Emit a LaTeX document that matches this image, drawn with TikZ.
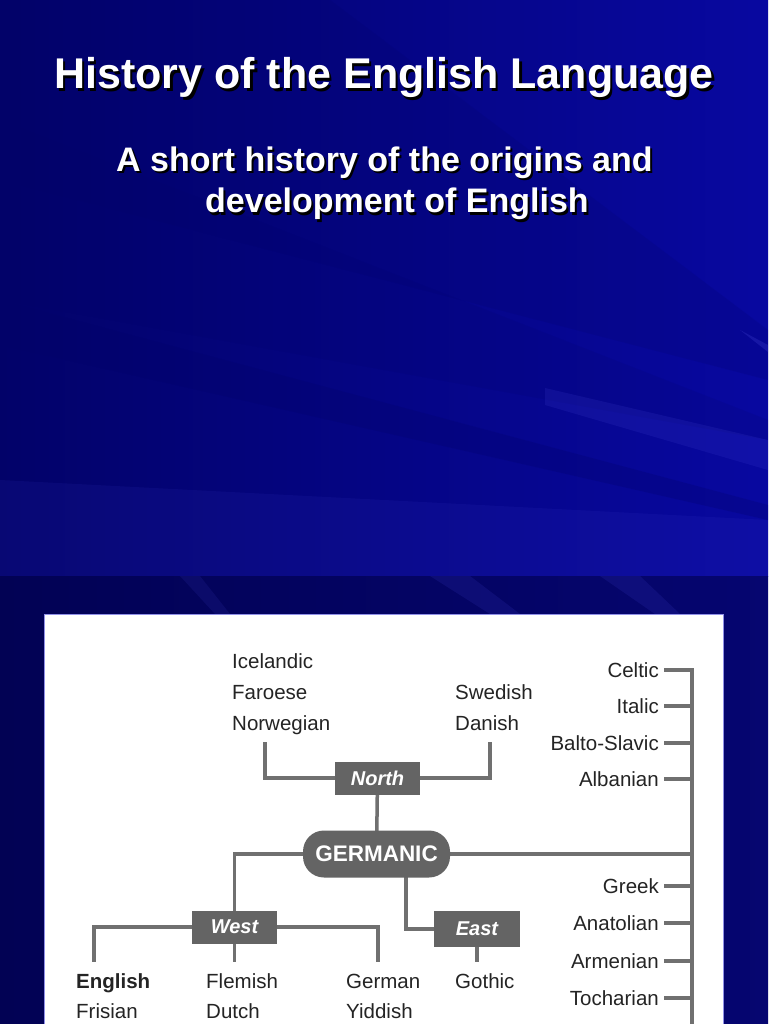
\documentclass[tikz,border=0pt]{standalone}
\usepackage{fontspec}
\setmainfont{Liberation Sans}
\usetikzlibrary{positioning}
\definecolor{slideblue}{RGB}{8,8,160}
\definecolor{slidedark}{RGB}{2,2,105}
\definecolor{raylight}{RGB}{70,70,215}
\definecolor{boxgrey}{RGB}{100,100,100}
\definecolor{linegrey}{RGB}{112,112,112}
\definecolor{inkgrey}{RGB}{36,36,36}

\begin{document}
\begin{tikzpicture}[x=1pt, y=-1pt,
    heading/.style={text=white, inner sep=0pt},
    lang/.style={font=\fontsize{20.5}{24}\selectfont, text=inkgrey, inner sep=0pt, text height=15pt, text depth=1pt},
    branch/.style={fill=boxgrey, text=white, font=\fontsize{20}{24}\selectfont\bfseries\itshape, minimum width=85pt, minimum height=33pt, inner sep=0pt},
    link/.style={draw=linegrey, line width=3.5pt},
    tick/.style={draw=linegrey, line width=4.5pt}]
        \useasboundingbox (0,0) rectangle (768,1024);
        \clip (0,0) rectangle (768,1024);

        % slide backgrounds
        \shade[left color=slidedark, right color=slideblue] (0,0) rectangle (768,576);
        \fill[slidedark, opacity=0.18] (0,0) -- (330,0) -- (768,330) -- (768,380) -- (0,180) -- cycle;
        \fill[slidedark, opacity=0.15] (0,120) -- (768,420) -- (768,440) -- (0,300) -- cycle;
        \fill[raylight, opacity=0.16] (545,388) -- (768,440) -- (768,470) -- (545,405) -- cycle;
        \fill[slidedark, opacity=0.25] (0,300) -- (768,505) -- (768,520) -- (0,345) -- cycle;
        \fill[raylight, opacity=0.10] (0,480) -- (768,520) -- (768,576) -- (0,576) -- cycle;
        \fill[raylight, opacity=0.25] (740,330) -- (768,345) -- (768,352) -- cycle;
        \shade[left color=slidedark!80!black, right color=slideblue!70!black] (0,576) rectangle (768,1024);
        \fill[raylight, opacity=0.15] (430,576) -- (470,576) -- (520,614) -- (490,614) -- cycle;
        \fill[raylight, opacity=0.15] (600,576) -- (640,576) -- (680,614) -- (655,614) -- cycle;
        \fill[raylight, opacity=0.12] (180,576) -- (200,576) -- (230,614) -- (215,614) -- cycle;
        \filldraw[fill=white, draw=raylight!60!white, line width=0.8] (44,614) rectangle (723,1030);

        % titles
        \node[heading, text=black, anchor=base, font=\fontsize{43}{48}\selectfont\bfseries] (titleshadow) at (386.5,91.5) {History of the English Language};
        \node[heading, anchor=base, font=\fontsize{43}{48}\selectfont\bfseries] (title) at (384,89) {History of the English Language};
        \node[heading, text=black, anchor=base west, font=\fontsize{34}{40}\selectfont\bfseries] (subashadow) at (118,174) {A short history of the origins and};
        \node[heading, anchor=base west, font=\fontsize{34}{40}\selectfont\bfseries] (suba) at (116,172) {A short history of the origins and};
        \node[heading, text=black, anchor=base west, font=\fontsize{34}{40}\selectfont\bfseries] (subbshadow) at (207,215) {development of English};
        \node[heading, anchor=base west, font=\fontsize{34}{40}\selectfont\bfseries] (subb) at (205,213) {development of English};

        % germanic branches
        \node[lang, anchor=base west] (icelandic) at (232,668) {Icelandic};
        \node[lang, anchor=base west] (faroese) at (232,699) {Faroese};
        \node[lang, anchor=base west] (norwegian) at (232,730) {Norwegian};
        \node[lang, anchor=base west] (swedish) at (455,699) {Swedish};
        \node[lang, anchor=base west] (danish) at (455,730) {Danish};
        \node[lang, anchor=base west, font=\fontsize{20.5}{24}\selectfont\bfseries] (english) at (76,988) {English};
        \node[lang, anchor=base west] (frisian) at (76,1018) {Frisian};
        \node[lang, anchor=base west] (flemish) at (206,988) {Flemish};
        \node[lang, anchor=base west] (dutch) at (206,1018) {Dutch};
        \node[lang, anchor=base west] (german) at (346,988) {German};
        \node[lang, anchor=base west] (yiddish) at (346,1018) {Yiddish};
        \node[lang, anchor=base west] (gothic) at (455,988) {Gothic};

        \coordinate (norstub) at (265,742);
        \coordinate (danstub) at (490,742);
        \coordinate (engstub) at (94,962);
        \coordinate (gerstub) at (378,962);
        \coordinate (spinetop) at (692,668);
        \coordinate (spinefoot) at (692,1030);

        \draw[link] (norstub) |- (377.5,778);
        \draw[link] (danstub) |- (377.5,778);
        \draw[link] (234.5,927) -| (engstub);
        \draw[link] (234.5,927) -| (gerstub);
        \draw[link] (234.5,927) -- (engstub -| 234.5,0);
        \draw[link] (477,929) -- (engstub -| 477,0);
        \draw[link] (376.5,854) -| (234.5,927);
        \draw[link] (406,854) |- (477,929);
        \draw[link] (377.5,778) -- (376.5,854);
        \draw[link] (376.5,854) -- (spinetop |- 0,854);
        \draw[link] (spinetop) -- (spinefoot);

        \node[branch] (north) at (377.5,778) {North};
        \node[branch, minimum width=86pt, minimum height=36pt] (east) at (477,929) {East};
        \node[branch] (west) at (234.5,927) {West};
        \node[branch, rounded corners=21pt, minimum width=147pt, minimum height=47pt, font=\fontsize{22.5}{26}\selectfont\bfseries, text=white] (germanic) at (376.5,854) {GERMANIC};

        % other indo-european branches
        \node[lang, anchor=base east] (celtic) at (659,677) {Celtic};
        \node[lang, anchor=base east] (italic) at (659,713) {Italic};
        \node[lang, anchor=base east] (baltoslavic) at (659,750) {Balto-Slavic};
        \node[lang, anchor=base east] (albanian) at (659,786) {Albanian};
        \node[lang, anchor=base east] (greek) at (659,893) {Greek};
        \node[lang, anchor=base east] (anatolian) at (659,930) {Anatolian};
        \node[lang, anchor=base east] (armenian) at (659,968) {Armenian};
        \node[lang, anchor=base east] (tocharian) at (659,1005) {Tocharian};
        \node[lang, anchor=base east] (indoiranian) at (659,1042) {Indo-Iranian};

        \draw[tick] ([xshift=5pt]celtic.east) -- (celtic.east -| spinetop);
        \draw[tick] ([xshift=5pt]italic.east) -- (italic.east -| spinetop);
        \draw[tick] ([xshift=5pt]baltoslavic.east) -- (baltoslavic.east -| spinetop);
        \draw[tick] ([xshift=5pt]albanian.east) -- (albanian.east -| spinetop);
        \draw[tick] ([xshift=5pt]greek.east) -- (greek.east -| spinetop);
        \draw[tick] ([xshift=5pt]anatolian.east) -- (anatolian.east -| spinetop);
        \draw[tick] ([xshift=5pt]armenian.east) -- (armenian.east -| spinetop);
        \draw[tick] ([xshift=5pt]tocharian.east) -- (tocharian.east -| spinetop);
        \draw[tick] ([xshift=5pt]indoiranian.east) -- (indoiranian.east -| spinetop);

        \end{tikzpicture}
\end{document}
